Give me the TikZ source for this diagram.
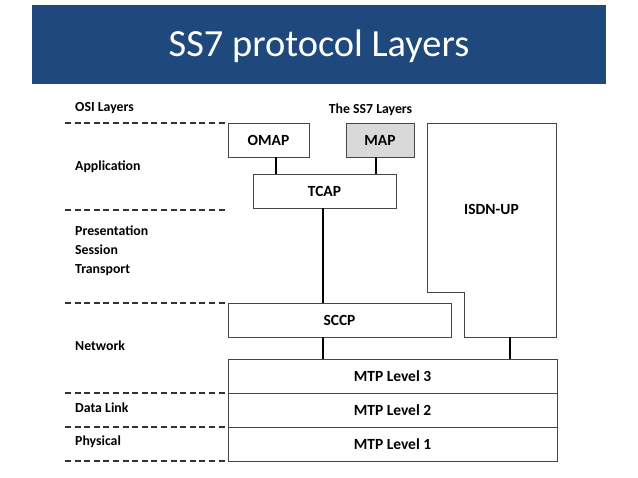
\documentclass[tikz,border=0pt]{standalone}
\usepackage{fontspec}
\setmainfont{Carlito}
\usetikzlibrary{calc}
\definecolor{bannerblue}{RGB}{31,73,125}
\definecolor{mapgray}{RGB}{217,217,217}
\definecolor{boxline}{RGB}{70,70,70}
\begin{document}
\begin{tikzpicture}[x=1pt,y=-1pt,
  box/.style={draw=boxline, line width=0.8pt, inner sep=0pt, font=\bfseries\fontsize{15.5}{18}\selectfont},
  conn/.style={line width=2.6pt, black},
  osisep/.style={draw=black!80, line width=1.2pt, dash pattern=on 6pt off 3.6pt},
  osilabel/.style={anchor=base west, inner sep=0pt, font=\bfseries\fontsize{13.8}{16}\selectfont},
  boxtext/.style={inner sep=0pt, font=\bfseries\fontsize{15.5}{18}\selectfont}]
\useasboundingbox[fill=white] (0,0) rectangle (638,478);

% banner
\node[fill=bannerblue, minimum width=574, minimum height=79, inner sep=0pt] (banner) at (319,44.5) {};
\node[anchor=base, text=white, inner sep=0pt, font=\fontsize{38.4}{44}\selectfont] (title) at (319,57) {SS7 protocol Layers};

% headers
\node[osilabel] (osi) at (75,112) {OSI Layers};
\node[anchor=base, inner sep=0pt, font=\bfseries\fontsize{13.8}{16}\selectfont] (ss7) at (370.5,114) {The SS7 Layers};

% OSI labels
\node[osilabel] (app) at (75,171) {Application};
\node[osilabel] (pres) at (75,236) {Presentation};
\node[osilabel] (sess) at (75,255) {Session};
\node[osilabel] (trans) at (75,274) {Transport};
\node[osilabel] (net) at (75,351) {Network};
\node[osilabel] (dl) at (75,413) {Data Link};
\node[osilabel] (phy) at (75,446) {Physical};

% SS7 boxes
\node[box, minimum width=81, minimum height=34] (omap) at (268.5,140) {OMAP};
\node[box, fill=mapgray, minimum width=68, minimum height=34] (map) at (380,140) {MAP};
\node[box, minimum width=143, minimum height=34] (tcap) at (324.5,191) {TCAP};
\node[box, minimum width=223, minimum height=34] (sccp) at (339.5,320) {SCCP};
\node[box, minimum width=329, minimum height=34] (mtp3) at (392.5,376) {MTP Level 3};
\node[box, minimum width=329, minimum height=34] (mtp2) at (392.5,410) {MTP Level 2};
\node[box, minimum width=329, minimum height=34] (mtp1) at (392.5,444) {MTP Level 1};

% ISDN-UP stepped box
\draw[draw=boxline, line width=0.8pt] (427,123) -- (556,123) -- (556,337) -- (464,337) -- (464,292) -- (427,292) -- cycle;
\node[boxtext] (isdn) at (491.5,209) {ISDN-UP};
\coordinate (isdnbot) at (510,337);

% connector end points
\coordinate (c1) at ($(omap.south)+(7.5,0)$);
\coordinate (c2) at ($(map.south)+(-4,0)$);
\coordinate (c3) at ($(tcap.south)+(-1.5,0)$);
\coordinate (c4) at ($(sccp.south)+(-16.5,0)$);

% connectors
\draw[conn] (c1) -- (c1 |- tcap.north);
\draw[conn] (c2) -- (c2 |- tcap.north);
\draw[conn] (c3) -- (c3 |- sccp.north);
\draw[conn] (c4) -- (c4 |- mtp3.north);
\draw[conn] (isdnbot) -- (isdnbot |- mtp3.north);

% OSI separators
\coordinate (s1) at (65,123);
\coordinate (s2) at (65,210);
\coordinate (s3) at (65,303);
\coordinate (s4) at (65,393);
\coordinate (s5) at (65,427);
\coordinate (s6) at (65,461);
\draw[osisep] (s1) -- (s1 -| omap.west);
\draw[osisep] (s2) -- (s2 -| sccp.west);
\draw[osisep] (s3) -- (s3 -| sccp.west);
\draw[osisep] (s4) -- (s4 -| mtp2.west);
\draw[osisep] (s5) -- (s5 -| mtp1.west);
\draw[osisep] (s6) -- (s6 -| mtp1.west);
\end{tikzpicture}
\end{document}
